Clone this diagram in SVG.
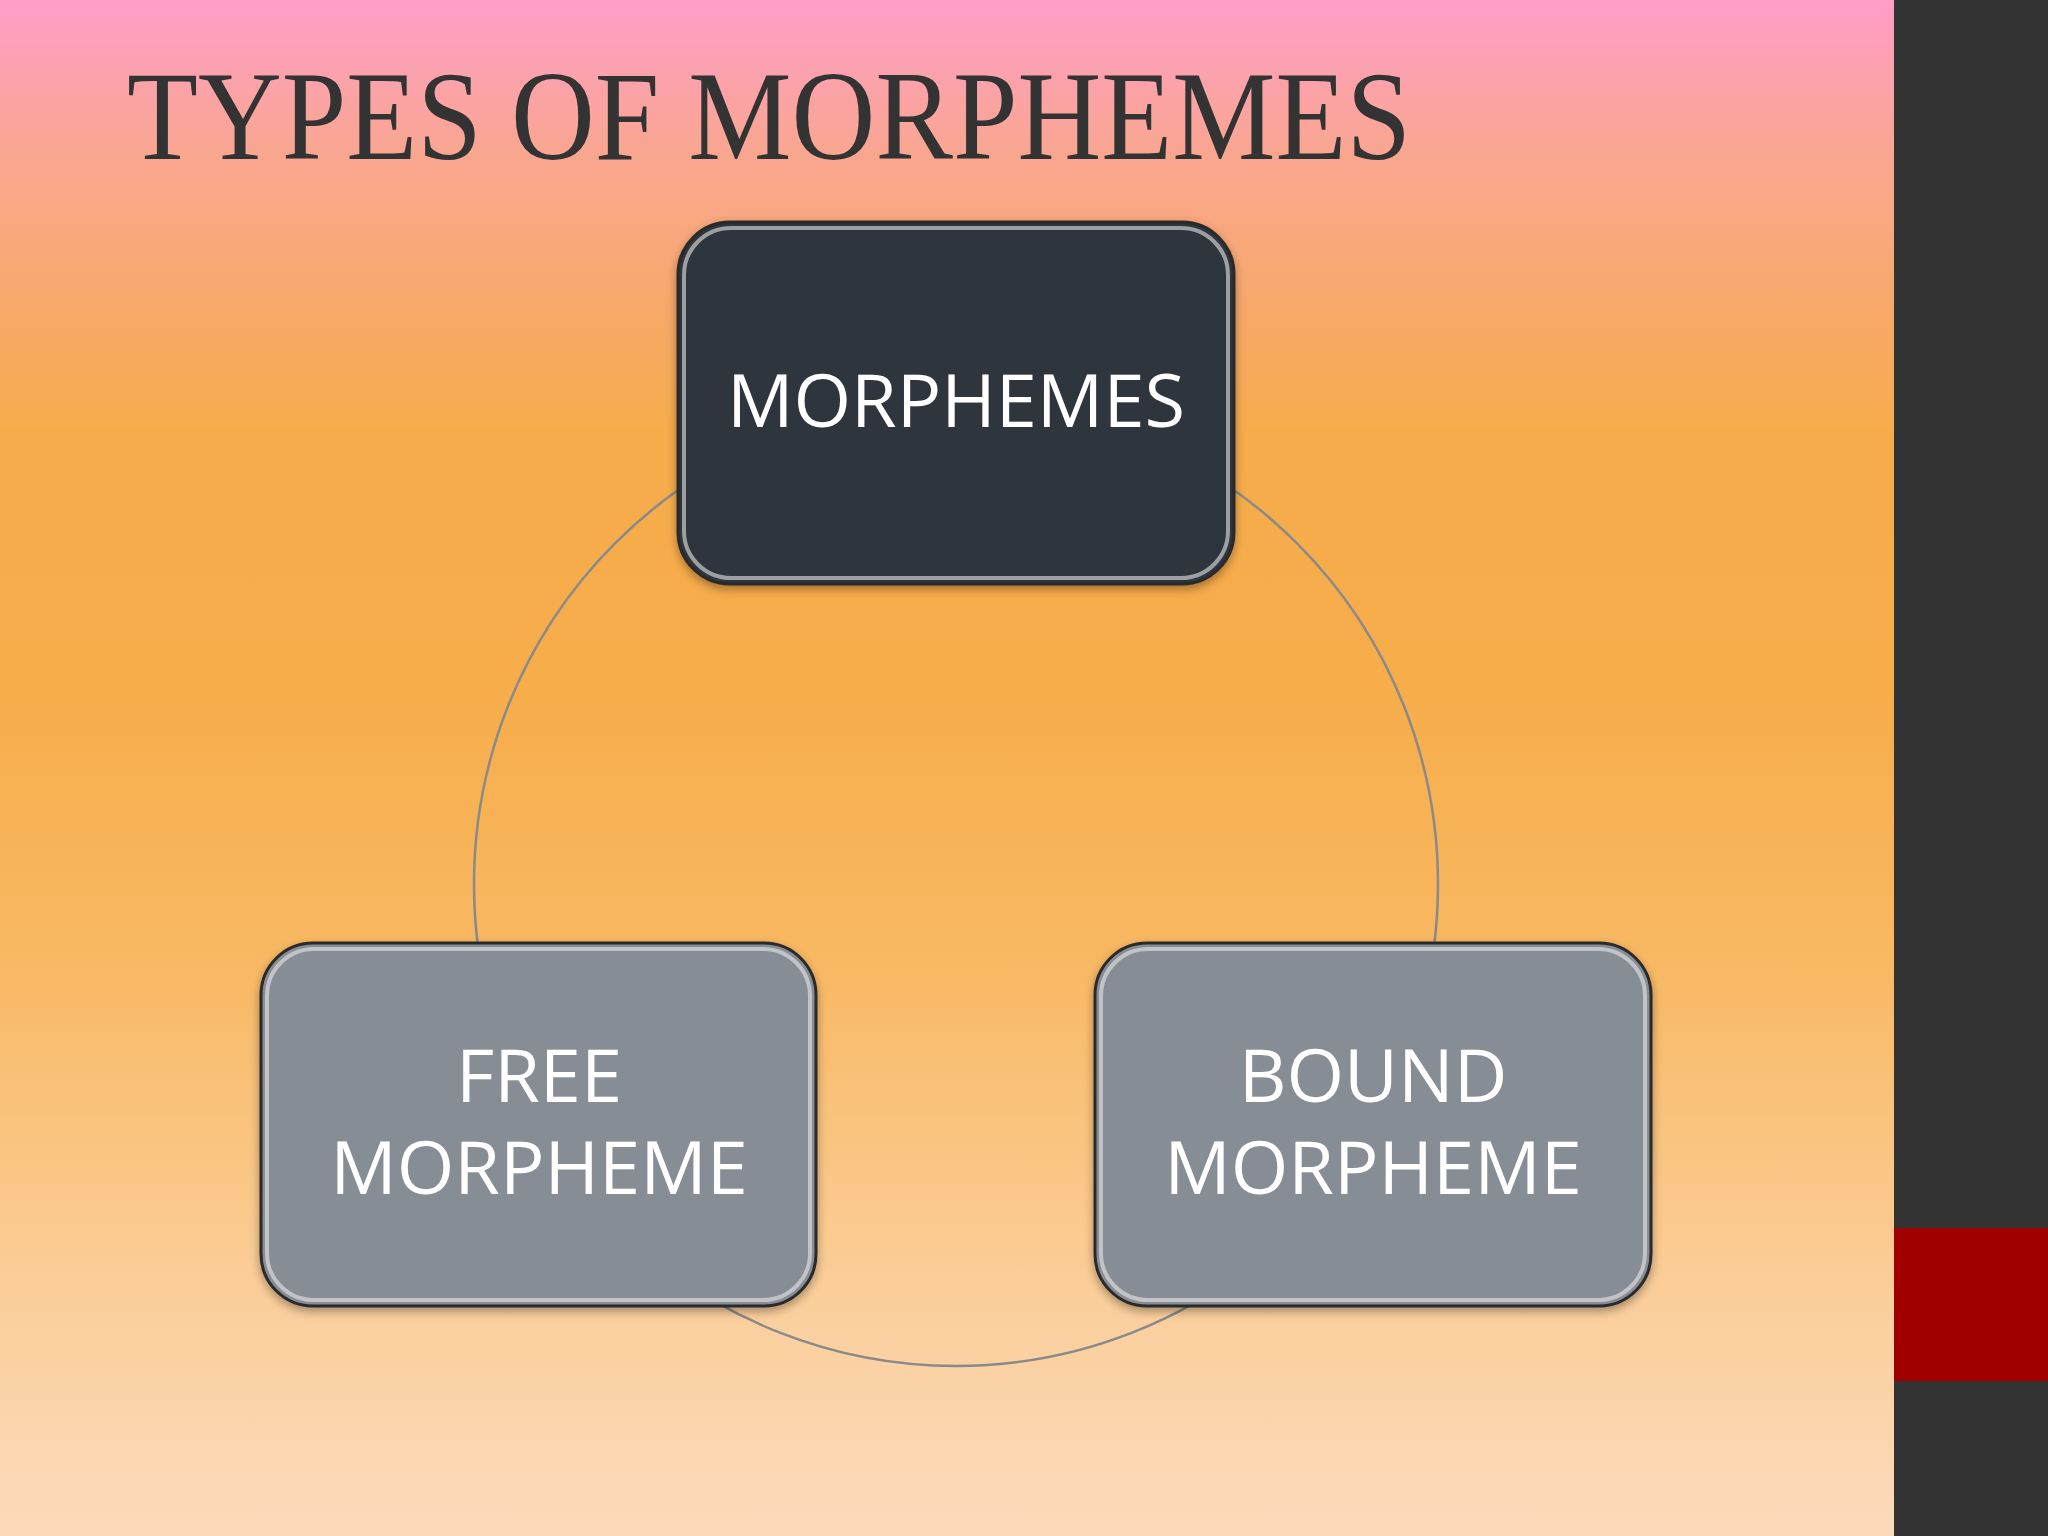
<svg xmlns="http://www.w3.org/2000/svg" width="2048" height="1536" viewBox="0 0 2048 1536">
<defs>
<linearGradient id="bg" x1="0" y1="0" x2="0" y2="1">
<stop offset="0" stop-color="#ff9ec8"/>
<stop offset="0.1" stop-color="#f9a690"/>
<stop offset="0.28" stop-color="#f7ac4c"/>
<stop offset="0.45" stop-color="#f7ad4a"/>
<stop offset="0.62" stop-color="#f8b862"/>
<stop offset="0.85" stop-color="#fbcf9c"/>
<stop offset="1" stop-color="#fcdabb"/>
</linearGradient>
<filter id="sh" x="-10%" y="-10%" width="120%" height="125%"><feDropShadow dx="0" dy="4" stdDeviation="5" flood-opacity="0.35"/></filter>
</defs>
<style>
.box{stroke:#2a2a2a;stroke-width:3;filter:url(#sh)}
.hl{fill:none;stroke:#e8e8e8;stroke-width:4;opacity:0.6}
.t{font-family:"Open Sans","Liberation Sans",sans-serif;font-size:74px;fill:#ffffff;text-anchor:middle}
</style>
<rect x="0" y="0" width="1894" height="1536" fill="url(#bg)"/>
<rect x="1894" y="0" width="154" height="1536" fill="#333333"/>
<rect x="1894" y="1228" width="154" height="153" fill="#a00000"/>
<text x="127" y="159" font-family="Liberation Serif,serif" font-size="128" fill="#333333" textLength="1284" lengthAdjust="spacingAndGlyphs">TYPES OF MORPHEMES</text>
<g id="connectors"><circle cx="956" cy="884" r="482" fill="none" stroke="#8a8a8a" stroke-width="2.5"/></g>
<g id="morphemes">
<rect class="box" x="678" y="222" width="556" height="362" rx="52" fill="#2f343c"/>
<rect class="hl" x="684" y="228" width="544" height="350" rx="47"/>
<text class="t" x="956" y="427">MORPHEMES</text>
</g>
<g id="free">
<rect class="box" x="261" y="943" width="555" height="363" rx="52" fill="#878d95"/>
<rect class="hl" x="267" y="949" width="543" height="351" rx="47"/>
<text class="t" x="539" y="1102">FREE</text>
<text class="t" x="539" y="1194">MORPHEME</text>
</g>
<g id="bound">
<rect class="box" x="1095" y="943" width="556" height="363" rx="52" fill="#878d95"/>
<rect class="hl" x="1101" y="949" width="544" height="351" rx="47"/>
<text class="t" x="1373" y="1102">BOUND</text>
<text class="t" x="1373" y="1194">MORPHEME</text>
</g>
</svg>
